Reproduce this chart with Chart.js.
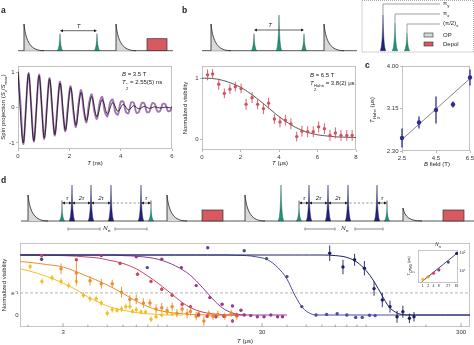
<!DOCTYPE html>
<html><head><meta charset="utf-8">
<script src="https://cdn.jsdelivr.net/npm/chart.js@4.4.1/dist/chart.umd.min.js"></script>
<style>
html,body{margin:0;padding:0;background:#fff}
body{width:474px;height:345px;overflow:hidden;position:relative;font-family:'Liberation Sans',Arial,Helvetica,sans-serif;color:#222}
canvas{position:absolute}
.t{position:absolute;white-space:nowrap;line-height:1;font-size:6px}
.c{transform:translate(-50%,-50%)}
.v{transform:translateY(-50%)}
.r{transform:translate(-50%,-50%) rotate(-90deg)}
.p{font-weight:bold;font-size:8.5px}
.ss{display:inline-flex;flex-direction:column;font-size:4.2px;line-height:3.6px;vertical-align:-2.4px;margin-left:0.3px}
.sb{font-size:4.3px;vertical-align:-1.5px}
</style></head><body>
<canvas id="sTop" width="474" height="62" style="left:0;top:0"></canvas>
<canvas id="cA" width="178" height="112" style="left:0;top:60px"></canvas>
<canvas id="cB" width="180" height="112" style="left:180px;top:60px"></canvas>
<canvas id="cC" width="114" height="112" style="left:360px;top:60px"></canvas>
<canvas id="sD" width="474" height="68" style="left:0;top:172px"></canvas>
<canvas id="cD" width="474" height="107" style="left:0;top:238px"></canvas>
<canvas id="cIn" width="69" height="50" style="left:405px;top:243px"></canvas>

<div class="t p" style="left:1px;top:6px">a</div>
<div class="t p" style="left:182px;top:6px">b</div>
<div class="t p" style="left:365px;top:61px">c</div>
<div class="t p" style="left:1px;top:176px">d</div>

<div class="t" style="left:122px;top:71px"><i>B</i> = 3.5 T</div>
<div class="t" style="left:122px;top:79px"><i>T</i><span class="ss"><span>*</span><span>2</span></span> = 2.55(5) ns</div>
<div class="t" style="left:310px;top:72px"><i>B</i> = 6.5 T</div>
<div class="t" style="left:310px;top:80px"><i>T</i><span class="ss"><span>Hahn</span><span>2</span></span> = 3.8(2) μs</div>

<div class="t c" style="left:95px;top:163px"><i>T</i> (ns)</div>
<div class="t c" style="left:280px;top:163px"><i>T</i> (μs)</div>
<div class="t c" style="left:437px;top:164px"><i>B</i> field (T)</div>
<div class="t c" style="left:245px;top:341px"><i>T</i> (μs)</div>
<div class="t r" style="left:4px;top:107px">Spin projection (<i>S</i><span class="sb">z</span>/<i>S</i><span class="sb">max</span>)</div>
<div class="t r" style="left:185px;top:108px">Normalized visibility</div>
<div class="t r" style="left:375px;top:110px"><i>T</i><span class="ss"><span>Hahn</span><span>2</span></span> (μs)</div>
<div class="t r" style="left:4px;top:285px">Normalized visibility</div>

<div class="t v" style="left:443px;top:4px">π<span class="sb">y</span></div>
<div class="t v" style="left:443px;top:14px">π<span class="sb">x</span></div>
<div class="t v" style="left:443px;top:24px">(π/2)<span class="sb">x</span></div>
<div class="t v" style="left:443px;top:35px">OP</div>
<div class="t v" style="left:443px;top:44px">Depol</div>

<div class="t c" style="left:107px;top:229px"><i>N</i><span class="sb">π</span></div>
<div class="t c" style="left:345px;top:229px"><i>N</i><span class="sb">π</span></div>

<div class="t c" style="left:438px;top:246px;font-size:4.5px"><i>N</i><span class="sb" style="font-size:3.4px">π</span></div>
<div class="t r" style="left:412px;top:266px;font-size:3.8px"><i>T</i><span class="ss" style="font-size:3px;line-height:2.8px"><span>CPMG</span><span>2</span></span> (μs)</div>

<script>
// ================= DATA =================
// panel a: oscillation extrema (fit) and measured trace
const aFitT = [0,0.205,0.41,0.615,0.82,1.025,1.23,1.435,1.64,1.845,2.05,2.255,2.46,2.665,2.87,3.075,3.28,3.485,3.69,3.895,4.1,4.305,4.51,4.715,4.92,5.125,5.33,5.535,5.74,5.945,6.0];
const aFitV = [1.0,-1.0,0.95,-0.94,0.9,-0.86,0.8,-0.76,0.69,-0.64,0.56,-0.5,0.43,-0.37,0.31,-0.26,0.22,-0.18,0.14,-0.11,0.09,-0.07,0.05,-0.04,0.03,-0.025,0.02,-0.015,0.01,-0.01,0.0];
const aDataT = [0,0.103,0.205,0.308,0.41,0.513,0.615,0.718,0.82,0.923,1.025,1.128,1.23,1.333,1.435,1.538,1.64,1.743,1.845,1.948,2.05,2.153,2.255,2.358,2.46,2.563,2.665,2.768,2.87,2.973,3.075,3.178,3.28,3.383,3.485,3.588,3.69,3.793,3.895,3.998,4.1,4.203,4.305,4.408,4.51,4.613,4.715,4.818,4.92,5.023,5.125,5.228,5.33,5.433,5.535,5.638,5.74,5.843,5.945,6.0];
const aDataV = [1.02,0.04,-1.03,-0.03,0.97,0.05,-0.96,-0.04,0.93,0.03,-0.89,0.06,0.83,-0.05,-0.79,0.06,0.73,-0.07,-0.67,0.08,0.6,-0.09,-0.55,0.1,0.49,-0.1,-0.42,0.12,0.37,-0.11,-0.32,0.13,0.3,-0.12,-0.25,0.14,0.22,-0.13,-0.2,0.15,0.17,-0.12,-0.16,0.14,0.13,-0.15,-0.12,0.12,0.12,-0.13,-0.11,0.12,0.1,-0.11,-0.1,0.1,0.09,-0.1,-0.08,0.03];
const aTickX = [0,2,4,6];
const aTickY = [-1,0,1];

// panel b: Hahn echo visibility
const bT = [0.29,0.55,0.87,1.16,1.45,1.73,2.03,2.29,2.6,2.89,3.19,3.46,3.76,4.05,4.33,4.62,4.92,5.19,5.49,5.78,6.06,6.36,6.65,6.93,7.22,7.52,7.8];
const bV = [1.055,1.07,0.9,0.75,0.82,0.86,0.83,0.57,0.68,0.57,0.5,0.59,0.33,0.28,0.31,0.25,0.04,0.13,0.12,0.12,0.2,0.17,0.06,0.1,0.06,0.06,0.06];
const bE = [0.09,0.08,0.09,0.08,0.08,0.08,0.08,0.09,0.09,0.08,0.09,0.09,0.08,0.09,0.09,0.09,0.08,0.09,0.09,0.09,0.09,0.09,0.09,0.09,0.09,0.09,0.09];
const bFitT = [0,0.5,1,1.5,2,2.5,3,3.5,4,4.5,5,5.5,6,6.5,7,7.5,8];
const bFitV = [1.0,0.995,0.97,0.92,0.85,0.75,0.63,0.5,0.37,0.26,0.17,0.11,0.07,0.05,0.035,0.03,0.025];
const bTickX = [0,2,4,6,8];
const bTickY = [0,1];

// panel c: T2 Hahn vs field
const cB = [2.5,3.5,4.5,5.5,6.5];
const cV = [2.56,2.87,3.12,3.23,3.77];
const cE = [0.19,0.12,0.27,0.06,0.16];
const cFitB = [2.5,6.5];
const cFitV = [2.53,3.75];
const cTickX = [2.5,4.5,6.5];
const cTickY = [2.30,3.15,4.00];

// panel d: CPMG visibility, six N_pi series
const dS1T = [2.05,2.35,2.64,2.93,3.2,3.5,3.8,4.1,4.4,4.67,5.0,5.3,5.6,5.9,6.2,6.5,6.7,7.0,7.4,7.8,8.3,8.8,9.4,10.0,10.6];
const dS1V = [0.81,0.56,0.62,0.56,0.49,0.56,0.33,0.27,0.27,0.2,0.03,0.09,0.08,0.1,0.14,0.14,0.06,0.09,0.05,0.05,-0.07,-0.03,0.0,0.05,0.02];
const dS1E = [0.05,0.05,0.05,0.06,0.05,0.08,0.05,0.05,0.05,0.05,0.05,0.05,0.04,0.05,0.05,0.05,0.04,0.05,0.04,0.04,0.05,0.04,0.04,0.04,0.04];
const dS2T = [2.93,3.5,4.1,4.67,5.3,5.9,6.5,7.0,7.6,8.2,8.8,9.4,10.0,10.6,11.2,11.9,12.6,13.1,14.0,14.4,15.3,16.2,17.0,18.0,19.5,21.0,22.4];
const dS2V = [0.77,0.7,0.57,0.52,0.52,0.38,0.26,0.26,0.2,0.2,0.1,0.12,0.07,0.14,0.03,0.1,0.02,0.06,-0.02,0.02,-0.1,0.02,-0.02,0.01,-0.02,0.03,-0.02];
const dS2E = [0.09,0.18,0.08,0.08,0.07,0.09,0.07,0.08,0.08,0.07,0.08,0.08,0.07,0.07,0.07,0.07,0.08,0.07,0.07,0.06,0.08,0.06,0.06,0.06,0.06,0.06,0.06];
const dS3T = [2.34,3.5,5.8,7.1,8.3,9.4,10.6,11.9,13.1,14.4,15.9,17.6,19.3,21.3,22.4];
const dS3V = [0.99,0.92,0.86,0.68,0.56,0.43,0.33,0.18,0.14,0.0,-0.02,-0.03,-0.02,-0.1,0.0];
const dS3E = [0.03,0.03,0.03,0.03,0.03,0.03,0.03,0.03,0.03,0.03,0.03,0.03,0.03,0.03,0.03];
const dS4T = [4.67,7.0,9.4,11.8,14.0,16.4,18.9,21.3,23.5,24.4,26.3,28.4,30.7,33.2,35.9,38.0];
const dS4V = [0.99,0.97,0.93,0.79,0.49,0.29,0.18,0.15,0.08,0.0,-0.01,-0.03,-0.03,0.0,-0.03,-0.03];
const dS4E = [0.02,0.02,0.02,0.02,0.02,0.02,0.02,0.02,0.02,0.02,0.02,0.02,0.02,0.02,0.02,0.02];
const dS5T = [2.34,7.95,16.0,24.4,31.6,40.0,47.5,56.0,63.3,71.5,80.0,88.6,95.6,104,111];
const dS5V = [0.93,0.79,1.12,1.07,0.94,0.64,0.14,0.0,0.01,0.02,0.0,-0.04,-0.04,-0.005,-0.01];
const dS5E = [0.02,0.02,0.02,0.02,0.02,0.02,0.02,0.02,0.02,0.02,0.02,0.02,0.02,0.02,0.02];
const dS6T = [65.6,76.5,87.5,98,109.6,120.6,131.8,143,153,165,174];
const dS6V = [1.03,0.8,0.92,0.78,0.44,0.25,0.14,-0.03,0.055,-0.055,-0.03];
const dS6E = [0.13,0.12,0.1,0.12,0.12,0.12,0.1,0.1,0.1,0.08,0.08];
const dFitT = [1.83,2,2.5,3,3.5,4,4.5,5,6,7,8,9,10,11,12,13,14,16,18,20,22,25,28,32,36,40,44,48,52,56,60,70,80,90,100,110,120,130,140,150,170,200,250,333];
const dF1 = [0.77,0.74,0.64,0.53,0.42,0.3,0.22,0.15,0.08,0.04,0.02,0.01,0,0,0];
const dF2 = [0.89,0.88,0.84,0.8,0.72,0.64,0.57,0.5,0.36,0.23,0.14,0.08,0.05,0.03,0.02,0.01,0.005,0,0,0,0];
const dF3 = [1,1,0.995,0.99,0.98,0.965,0.95,0.92,0.86,0.77,0.65,0.53,0.41,0.3,0.2,0.13,0.08,0.03,0.01,0,0,0];
const dF4 = [1,1,1,1,1,1,1,1,0.99,0.98,0.96,0.93,0.88,0.82,0.75,0.67,0.57,0.36,0.18,0.07,0.02,0,0,0,0,0];
const dF5 = [1,1,1,1,1,1,1,1,1,1,1,1,1,1,1,1,1,1,1,1,0.995,0.99,0.97,0.92,0.79,0.6,0.32,0.12,0.03,0,0,0,0,0,0,0,0,0,0,0,0,0,0,0];
const dF6 = [1,1,1,1,1,1,1,1,1,1,1,1,1,1,1,1,1,1,1,1,1,1,1,1,1,1,1,1,1,1,1,0.99,0.96,0.88,0.74,0.55,0.33,0.14,0.05,0.01,0,0,0,0];
const dTickX = [2,3,4,5,6,7,8,9,10,20,30,40,50,60,70,80,90,100,200,300];
const dLabelX = [3,30,300];
const dInvE = 0.3679;

// inset: T2 CPMG vs N_pi
const inN = [1,2,4,8,27,81];
const inT2 = [3.3,4.6,7.2,11,30,92];
const inFitN = [0.88,92.5];
const inFitT = [2.45,100];
const inTickN = [1,2,4,8,27,81];
const inTickT = [10,100];

// pulse sequences (schematic time units)
const seqA = [['op',24],['p2',60],['p2',97],['op',116],['depol',147]];
const seqB = [['op',211],['p2',254],['px',279],['p2',304],['op',324]];
const seqLeg = [['py',383,35.7],['px',395,27.7],['p2',407,17.7]];
const seqD = [['op',28],['p2',62],['py',72],['py',91],['py',111],['py',141],['p2',151],['op',167],['depol',202],
              ['op',245],['px',281],['p2',299],['py',309],['py',328],['py',348],['py',377],['p2',387],['opS',403],['depol',443]];

// ================= STYLE / HELPERS =================
const dColors = ['#f2c02c','#ee8c29','#c9475d','#943c8d','#4a4c9d','#1d2060'];
const FONT = "'Liberation Sans', Arial, sans-serif";
Chart.defaults.font.family = FONT;
Chart.defaults.font.size = 6;
Chart.defaults.color = '#333';
Chart.defaults.animation = false;
Chart.defaults.plugins.legend.display = false;
Chart.defaults.plugins.tooltip.enabled = false;

const setTicks = arr => s => { s.ticks = arr.map(v => ({value: v})); };
const fitX = h => s => { s.height = h; s.paddingLeft = 0; s.paddingRight = 0; };
const fitY = w => s => { s.width = w; s.paddingTop = 0; s.paddingBottom = 0; };
const pts = (xs, ys) => xs.map((x, i) => ({x: x, y: ys[i]}));

const boxPlug = (color, fill) => ({id: 'box', beforeDatasetsDraw(c) {
  const a = c.chartArea, ctx = c.ctx; ctx.save();
  if (fill) { ctx.fillStyle = fill; ctx.fillRect(a.left, a.top, a.width, a.height); }
  ctx.strokeStyle = color; ctx.lineWidth = 0.8;
  ctx.strokeRect(a.left + 0.4, a.top + 0.4, a.width - 0.8, a.height - 0.8); ctx.restore();
}});
const errPlug = {id: 'err', afterDatasetsDraw(c) {
  const ctx = c.ctx;
  c.data.datasets.forEach((ds, i) => {
    if (!ds.errors) return;
    const meta = c.getDatasetMeta(i), ys = c.scales[meta.yAxisID];
    ctx.save(); ctx.strokeStyle = ds.errColor || ds.backgroundColor; ctx.lineWidth = ds.errWidth || 0.8;
    meta.data.forEach((el, j) => {
      const e = ds.errors[j], v = ds.data[j].y;
      ctx.beginPath(); ctx.moveTo(el.x, ys.getPixelForValue(v - e)); ctx.lineTo(el.x, ys.getPixelForValue(v + e)); ctx.stroke();
    });
    ctx.restore();
  });
}};
const inTickPlug = (majors) => ({id: 'inticks', afterDatasetsDraw(c) {
  const s = c.scales.x, a = c.chartArea, ctx = c.ctx; ctx.save(); ctx.strokeStyle = '#8a8a8a'; ctx.lineWidth = 0.7;
  s.ticks.forEach(t => { const x = s.getPixelForValue(t.value), L = majors.includes(t.value) ? 4 : 2.5;
    ctx.beginPath(); ctx.moveTo(x, a.bottom); ctx.lineTo(x, a.bottom - L); ctx.stroke(); });
  ctx.restore();
}});

const PCOL = {p2: '#1f947a', px: '#1f947a', py: '#20237f'};
function pulse(ctx, p, X, Y, H, dw) {
  const k = p[0], t = p[1], h = p[2] || H[k];
  if (k === 'op' || k === 'opS') {
    const w = k === 'op' ? 20 : 19;
    const path = () => { ctx.moveTo(X(t), Y(0)); ctx.lineTo(X(t), Y(h));
      ctx.bezierCurveTo(X(t + w * 0.1), Y(h * 0.3), X(t + w * 0.35), Y(0), X(t + w), Y(0)); };
    ctx.beginPath(); path(); ctx.closePath(); ctx.fillStyle = '#d9d9d9'; ctx.fill();
    ctx.beginPath(); path(); ctx.strokeStyle = '#222'; ctx.lineWidth = 0.8; ctx.stroke();
  } else if (k === 'depol') {
    ctx.fillStyle = '#d65a5f'; ctx.fillRect(X(t), Y(h), X(t + dw) - X(t), Y(0) - Y(h));
    ctx.strokeStyle = '#333'; ctx.lineWidth = 0.7; ctx.strokeRect(X(t), Y(h), X(t + dw) - X(t), Y(0) - Y(h));
  } else {
    const hw = 2.7;
    ctx.beginPath(); ctx.moveTo(X(t - hw), Y(0));
    ctx.quadraticCurveTo(X(t - 0.5), Y(h * 0.12), X(t), Y(h));
    ctx.quadraticCurveTo(X(t + 0.5), Y(h * 0.12), X(t + hw), Y(0)); ctx.closePath();
    ctx.fillStyle = PCOL[k]; ctx.fill(); ctx.strokeStyle = k === 'py' ? '#0d0f40' : '#0c4a3c'; ctx.lineWidth = 0.4; ctx.stroke();
  }
}
function head(ctx, x, y, dir) { ctx.beginPath(); ctx.moveTo(x, y); ctx.lineTo(x - dir * 3, y - 1.5); ctx.lineTo(x - dir * 3, y + 1.5); ctx.closePath(); ctx.fill(); }
const schemPlug = spec => ({id: 'schem', afterDraw(c) {
  const ctx = c.ctx, X = v => c.scales.x.getPixelForValue(v), Y = v => c.scales.y.getPixelForValue(v);
  ctx.save();
  ctx.strokeStyle = '#555'; ctx.lineWidth = 1;
  spec.base.forEach(b => { ctx.beginPath(); ctx.moveTo(X(b[0]), Y(0)); ctx.lineTo(X(b[1]), Y(0)); ctx.stroke(); });
  spec.seq.forEach(p => pulse(ctx, p, X, Y, spec.h, spec.dw));
  ctx.strokeStyle = '#222'; ctx.fillStyle = '#222'; ctx.lineWidth = 0.7;
  (spec.ends || []).forEach(e => { ctx.beginPath(); ctx.moveTo(X(e[0]), Y(e[1])); ctx.lineTo(X(e[0]), Y(e[2])); ctx.stroke(); });
  (spec.arrows || []).forEach(a => {
    const y = Y(a[2]), x0 = X(a[0]), x1 = X(a[1]);
    ctx.beginPath();
    if (a[5]) { ctx.strokeStyle = '#666'; ctx.setLineDash([2.2, 2]); ctx.moveTo(x0 + 1.5, y); ctx.lineTo(x1 - 1.5, y); ctx.stroke(); ctx.setLineDash([]); ctx.strokeStyle = '#222'; return; }
    ctx.moveTo(x0 + 1, y); ctx.lineTo(x1 - 1, y); ctx.stroke(); head(ctx, x0, y, -1); head(ctx, x1, y, 1);
    if (a[3]) { ctx.font = 'italic 6px ' + FONT; ctx.textAlign = 'center'; ctx.textBaseline = 'bottom';
      ctx.fillText(a[3], X(a[4] != null ? a[4] : (a[0] + a[1]) / 2), y - 1.3); }
  });
  ctx.strokeStyle = '#8a8a8a'; ctx.lineWidth = 1;
  (spec.brackets || []).forEach(b => { ctx.beginPath(); ctx.moveTo(X(b[0]), Y(b[2])); ctx.lineTo(X(b[1]), Y(b[2])); ctx.stroke();
    [b[0], b[1]].forEach(x => { ctx.beginPath(); ctx.moveTo(X(x), Y(b[2]) - 1.5); ctx.lineTo(X(x), Y(b[2]) + 1.5); ctx.stroke(); }); });
  if (spec.legend) {
    ctx.setLineDash([0.8, 1.2]); ctx.strokeStyle = '#666'; ctx.lineWidth = 0.7;
    ctx.strokeRect(X(362), Y(50.2), X(473.5) - X(362), Y(-1.3) - Y(50.2)); ctx.setLineDash([]);
    spec.legend.forEach(p => pulse(ctx, p, X, Y, spec.h, spec.dw));
    ctx.strokeStyle = '#888'; ctx.lineWidth = 0.8;
    [[383, 35.7, 46.7], [395, 27.7, 36.7], [407, 17.7, 26.7]].forEach(l => { ctx.beginPath();
      ctx.moveTo(X(l[0]), Y(l[1])); ctx.lineTo(X(l[0]), Y(l[2])); ctx.lineTo(X(440), Y(l[2])); ctx.stroke(); });
    ctx.lineWidth = 0.6; ctx.strokeStyle = '#333';
    ctx.fillStyle = '#d9d9d9'; ctx.fillRect(X(424), Y(17.7), X(433) - X(424), Y(13.7) - Y(17.7)); ctx.strokeRect(X(424), Y(17.7), X(433) - X(424), Y(13.7) - Y(17.7));
    ctx.fillStyle = '#d65a5f'; ctx.fillRect(X(424), Y(8.7), X(433) - X(424), Y(4.7) - Y(8.7)); ctx.strokeRect(X(424), Y(8.7), X(433) - X(424), Y(4.7) - Y(8.7));
  }
  ctx.restore();
}});
const hidden = (min, max) => ({type: 'linear', min: min, max: max, display: false});
function schemChart(id, ymin, ymax, spec) {
  new Chart(id, {type: 'scatter', data: {datasets: []},
    options: {responsive: false, layout: {padding: 0}, scales: {x: hidden(0, 474), y: hidden(ymin, ymax)}},
    plugins: [schemPlug(spec)]});
}
const axGrid = {display: true, drawOnChartArea: false, tickLength: 2, color: '#999', lineWidth: 0.7};
const noGrid = {display: false, drawTicks: false, tickLength: 0};
const tk = (cb) => ({padding: 1.5, maxRotation: 0, autoSkip: false, color: '#333', font: {size: 6}, callback: cb});

// ================= SCHEMATICS =================
schemChart('sTop', -11.3, 50.7, {base: [[18, 173], [202, 357]], h: {op: 26.7, p2: 17, px: 35.7, py: 35.7, depol: 12}, dw: 20,
  seq: seqA.concat(seqB), arrows: [[60, 97, 20, 'T', 78.5], [254, 304, 20.7, 'T', 270]], legend: seqLeg});
schemChart('sD', -19, 49, {base: [[21, 474]], h: {op: 26, opS: 13, p2: 14, px: 36, py: 36, depol: 11}, dw: 21, seq: seqD,
  arrows: [[62, 72, 18, 'τ'], [72, 91, 18, '2τ'], [91, 111, 18, '2τ'], [111, 141, 18, null, null, true], [141, 151, 18, 'τ'],
           [299, 309, 18, 'τ'], [309, 328, 18, '2τ'], [328, 348, 18, '2τ'], [348, 377, 18, null, null, true], [377, 387, 18, 'τ']],
  ends: [[62, 14, 20.5], [151, 14, 20.5], [299, 14, 20.5], [387, 14, 20.5]],
  brackets: [[68, 100, -8], [115, 147, -8], [305, 335, -8], [355, 383, -8]]});

// ================= PANEL A =================
new Chart('cA', {type: 'scatter', data: {datasets: [
  {data: pts(aFitT, aFitV), showLine: true, borderColor: '#151515', borderWidth: 0.85, pointRadius: 0, cubicInterpolationMode: 'monotone', order: 1},
  {data: pts(aDataT, aDataV), showLine: true, borderColor: 'rgba(135,70,155,0.75)', borderWidth: 1.9, pointRadius: 0, tension: 0.35, order: 2}
]}, options: {responsive: false, layout: {padding: {left: 0, right: 6, top: 6, bottom: 0}},
  scales: {
    x: {type: 'linear', min: 0, max: 6, afterBuildTicks: setTicks(aTickX), afterFit: fitX(23), grid: axGrid, border: {display: false}, ticks: tk(v => String(v))},
    y: {type: 'linear', min: -1.17, max: 1.17, afterBuildTicks: setTicks(aTickY), afterFit: fitY(18), grid: axGrid, border: {display: false}, ticks: tk(v => String(v))}
  }}, plugins: [boxPlug('#b5b5b5')]});

// ================= PANEL B =================
new Chart('cB', {type: 'scatter', data: {datasets: [
  {data: pts(bFitT, bFitV), showLine: true, borderColor: '#444', borderWidth: 0.9, pointRadius: 0, tension: 0.4, order: 2},
  {data: pts(bT, bV), errors: bE, backgroundColor: '#d4505f', pointRadius: 1.7, pointBorderWidth: 0, errWidth: 0.9, order: 1}
]}, options: {responsive: false, layout: {padding: {left: 0, right: 3, top: 6, bottom: 0}},
  scales: {
    x: {type: 'linear', min: 0, max: 8, afterBuildTicks: setTicks(bTickX), afterFit: fitX(22), grid: axGrid, border: {display: false}, ticks: tk(v => String(v))},
    y: {type: 'linear', min: -0.18, max: 1.2, afterBuildTicks: setTicks(bTickY), afterFit: fitY(22), grid: axGrid, border: {display: false}, ticks: tk(v => String(v))}
  }}, plugins: [boxPlug('#b5b5b5'), errPlug]});

// ================= PANEL C =================
new Chart('cC', {type: 'scatter', data: {datasets: [
  {data: pts(cFitB, cFitV), showLine: true, borderColor: '#666', borderWidth: 0.8, pointRadius: 0, order: 2},
  {data: pts(cB, cV), errors: cE, backgroundColor: '#2b2d8e', pointRadius: 2.2, pointBorderWidth: 0, errWidth: 1.3, clip: false, order: 1}
]}, options: {responsive: false, layout: {padding: {left: 0, right: 3, top: 6, bottom: 0}},
  scales: {
    x: {type: 'linear', min: 2.5, max: 6.5, afterBuildTicks: setTicks(cTickX), afterFit: fitX(21), grid: axGrid, border: {display: false}, ticks: tk(v => v.toFixed(1))},
    y: {type: 'linear', min: 2.30, max: 4.00, afterBuildTicks: setTicks(cTickY), afterFit: fitY(42), grid: axGrid, border: {display: false}, ticks: tk(v => v.toFixed(2))}
  }}, plugins: [boxPlug('#b5b5b5'), errPlug]});

// ================= PANEL D =================
const dSeries = [[dS1T, dS1V, dS1E, dF1], [dS2T, dS2V, dS2E, dF2], [dS3T, dS3V, dS3E, dF3], [dS4T, dS4V, dS4E, dF4], [dS5T, dS5V, dS5E, dF5], [dS6T, dS6V, dS6E, dF6]];
const dSets = [{data: [{x: 1.823, y: dInvE}, {x: 333, y: dInvE}], showLine: true, borderColor: '#a5a5a5', borderWidth: 0.8, borderDash: [3, 2], pointRadius: 0, order: 100}];
dSeries.forEach((s, i) => {
  dSets.push({data: s[3].map((v, j) => ({x: dFitT[j], y: v})), showLine: true, borderColor: dColors[i], borderWidth: 1, pointRadius: 0, cubicInterpolationMode: 'monotone', order: 60 - i});
  dSets.push({data: pts(s[0], s[1]), errors: s[2], backgroundColor: dColors[i], pointRadius: 1.7, pointBorderWidth: 0, errWidth: 0.9, order: 30 - i});
});
new Chart('cD', {type: 'scatter', data: {datasets: dSets},
  options: {responsive: false, layout: {padding: {left: 0, right: 1, top: 5, bottom: 0}},
  scales: {
    x: {type: 'logarithmic', min: 1.823, max: 332.6, afterBuildTicks: setTicks(dTickX), afterFit: fitX(18), grid: noGrid, border: {display: false},
        ticks: tk(v => dLabelX.includes(v) ? String(v) : '')},
    y: {type: 'linear', min: -0.2, max: 1.2, afterBuildTicks: setTicks([0, dInvE]), afterFit: fitY(20), grid: noGrid, border: {display: false},
        ticks: tk(v => v === 0 ? '0' : 'e⁻¹')}
  }}, plugins: [boxPlug('#b8b8b8'), errPlug, inTickPlug(dLabelX)]});

// ================= INSET =================
new Chart('cIn', {type: 'scatter', data: {datasets: [
  {data: pts(inFitN, inFitT), showLine: true, borderColor: '#222', borderWidth: 0.8, pointRadius: 0, order: 2},
  {data: pts(inN, inT2), backgroundColor: dColors, pointRadius: 1.6, pointBorderWidth: 0, order: 1}
]}, options: {responsive: false, layout: {padding: {left: 13, right: 1, top: 7, bottom: 0}},
  scales: {
    x: {type: 'logarithmic', min: 0.54, max: 95, afterBuildTicks: setTicks(inTickN), afterFit: fitX(10), grid: noGrid, border: {display: false},
        ticks: {padding: 1, maxRotation: 0, autoSkip: false, font: {size: 3.6}, color: '#333', callback: v => String(v)}},
    y: {type: 'logarithmic', position: 'right', min: 2.07, max: 141, afterBuildTicks: setTicks(inTickT), afterFit: fitY(15), grid: noGrid, border: {display: false},
        ticks: {padding: 1.5, autoSkip: false, font: {size: 4}, color: '#333', callback: v => v === 100 ? '10²' : '10¹'}}
  }}, plugins: [boxPlug('#b8b8b8', '#ffffff')]});
</script>
</body></html>
